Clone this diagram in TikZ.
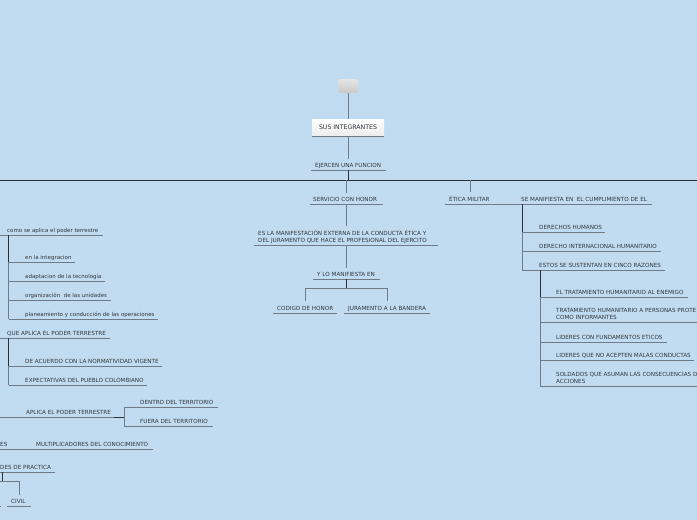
\documentclass[tikz,border=0pt]{standalone}
\usepackage{fontspec}
\setmainfont{DejaVu Sans}
\definecolor{mapbg}{HTML}{C1DCF0}
\definecolor{mapink}{HTML}{30363C}
\definecolor{maprule}{HTML}{6F7C88}
\definecolor{mapdark}{HTML}{2C3034}
\tikzset{
  topic/.style={anchor=south west, inner sep=0pt, text depth=0pt, text=mapink, align=left,
    font=\fontsize{5.65}{7}\selectfont},
  lowtopic/.style={topic, font=\fontsize{5.5}{7}\selectfont},
  rule/.style={maprule, line width=.8pt},
  link/.style={maprule, line width=1pt},
  trunk/.style={mapdark, line width=1pt},
}
% name, left end of rule, left of text, right end of rule, y of rule, text
\newcommand{\topicline}[7][topic]{
  \node[#1] (#2) at (#4,#6-2.4) {#7};
  \coordinate (#2-l) at (#3,#6);
  \coordinate (#2-r) at (#5,#6);
  \draw[rule] (#2-l) -- (#2-r);
}
\begin{document}
\begin{tikzpicture}[x=1pt,y=-1pt]
\useasboundingbox (0,0) rectangle (697,520);
\clip (0,0) rectangle (697,520);
\fill[mapbg] (0,0) rectangle (697,520);

% centre
\node[minimum width=20pt, minimum height=14pt, inner sep=0pt, rounded corners=1.5pt, top color=gray!20, bottom color=gray!42] (root) at (348,86) {};
\node[minimum width=72pt, minimum height=17pt, inner sep=0pt, top color=white, bottom color=gray!15, text=mapink, font=\fontsize{6.2}{7}\selectfont] (members) at (348,127.5) {\raisebox{-.6pt}{SUS INTEGRANTES}};
\draw[rule] (members.south west) -- (members.south east);
\draw[link] (root) -- (members);
\topicline{ejerce}{311}{315}{386}{170}{EJERCEN UNA FUNCION}
\draw[link] (members) -- (348,159);
\coordinate (busl) at (0,180);
\coordinate (busr) at (697,180);
\draw[trunk] (busl) -- (busr);
\draw[trunk] (348,170) -- (348,180);

\topicline{servicio}{310}{313}{383}{204}{SERVICIO CON HONOR}
\draw[link] (346.5,180) -- (346.5,193);
\topicline{manifest}{254}{258}{438}{245}{ES LA MANIFESTACIÓN EXTERNA DE LA CONDUCTA ÉTICA Y\\DEL JURAMENTO QUE HACE EL PROFESIONAL DEL EJERCITO}
\draw[link] (346.5,204) -- (346.5,226);
\topicline{ylo}{313}{317}{380}{279}{Y LO MANIFIESTA EN}
\draw[link] (346.5,245) -- (346.5,268);
\topicline{codigo}{273}{277}{337}{313}{CODIGO DE HONOR}
\topicline{jura}{344}{348}{430}{313}{JURAMENTO A LA BANDERA}
\draw[trunk] (346.5,279) -- (346.5,288.5);
\draw[link] (305,301) |- (387,288.5) -- (387,301);

% right
\topicline{etica}{445}{449}{522}{204}{ÉTICA MILITAR}
\draw[link] (470,180) -- (470,192);
\topicline{cumple}{522}{521}{652}{204}{SE MANIFIESTA EN~~EL CUMPLIMIENTO DE EL}
\topicline{derechos}{522}{539}{605}{232}{DERECHOS HUMANOS}
\topicline{dih}{522}{539}{661}{251}{DERECHO INTERNACIONAL HUMANITARIO}
\topicline{razones}{522}{539}{665}{270}{ESTOS SE SUSTENTAN EN CINCO RAZONES}
\draw[trunk] (cumple-l) -- (derechos-l);
\draw[link] (derechos-l) -- (razones-l);
\topicline{enemigo}{540}{556}{688}{297}{EL TRATAMIENTO HUMANITARIO AL ENEMIGO}
\topicline{informa}{540}{556}{697}{322}{TRATAMIENTO HUMANITARIO A PERSONAS PROTE\\COMO INFORMANTES}
\topicline{eticos}{540}{556}{667}{342}{LIDERES CON FUNDAMENTOS ETICOS}
\topicline{malas}{540}{556}{694}{360}{LIDERES QUE NO ACEPTEN MALAS CONDUCTAS}
\topicline{soldados}{540}{556}{697}{386}{SOLDADOS QUE ASUMAN LAS CONSECUENCIAS D\\ACCIONES}
\draw[trunk] (540,270) -- (enemigo-l);
\draw[link] (enemigo-l) -- (soldados-l);

% left
\topicline[lowtopic]{como}{0}{7}{103}{235}{como se aplica el poder terrestre}
\topicline[lowtopic]{integra}{8.5}{25}{75}{262}{en la integracion}
\topicline[lowtopic]{adapta}{8.5}{25}{105}{281}{adaptacion de la tecnología}
\topicline[lowtopic]{organiza}{8.5}{25}{111}{300}{organización~~de las unidades}
\topicline[lowtopic]{planea}{8.5}{25}{158}{319}{planeamiento y conducción de las operaciones}
\draw[trunk] (8.5,235) -- (integra-l);
\draw[link] (integra-l) -- (planea-l);
\topicline{aplica}{0}{7}{110}{338}{QUE APLICA EL PODER TERRESTRE}
\topicline{acuerdo}{8.5}{25}{162}{366}{DE ACUERDO CON LA NORMATIVIDAD VIGENTE}
\topicline{expecta}{8.5}{25}{147}{385}{EXPECTATIVAS DEL PUEBLO COLOMBIANO}
\draw[trunk] (8.5,338) -- (acuerdo-l);
\draw[link] (acuerdo-l) -- (expecta-l);
\topicline{poder}{0}{26}{124}{417}{APLICA EL PODER TERRESTRE}
\topicline{dentro}{124}{140}{218}{407}{DENTRO DEL TERRITORIO}
\topicline{fuera}{124}{140}{213}{426}{FUERA DEL TERRITORIO}
\draw[trunk] (114,417) -- (poder-r);
\draw[link] (dentro-l) -- (fuera-l);
\topicline{multi}{0}{36}{153}{449}{MULTIPLICADORES DEL CONOCIMIENTO}
\node[topic] (es) at (0,446.6) {ES};
\topicline{practica}{0}{0}{55}{472}{DES DE PRACTICA}
\topicline{civil}{7}{11}{31}{506}{CIVIL}
\draw[rule] (0,506) -- (1,506);
\draw[trunk] (2.5,472) -- (2.5,481.5);
\draw[link] (0,481.5) -| (19,495);
\end{tikzpicture}
\end{document}
